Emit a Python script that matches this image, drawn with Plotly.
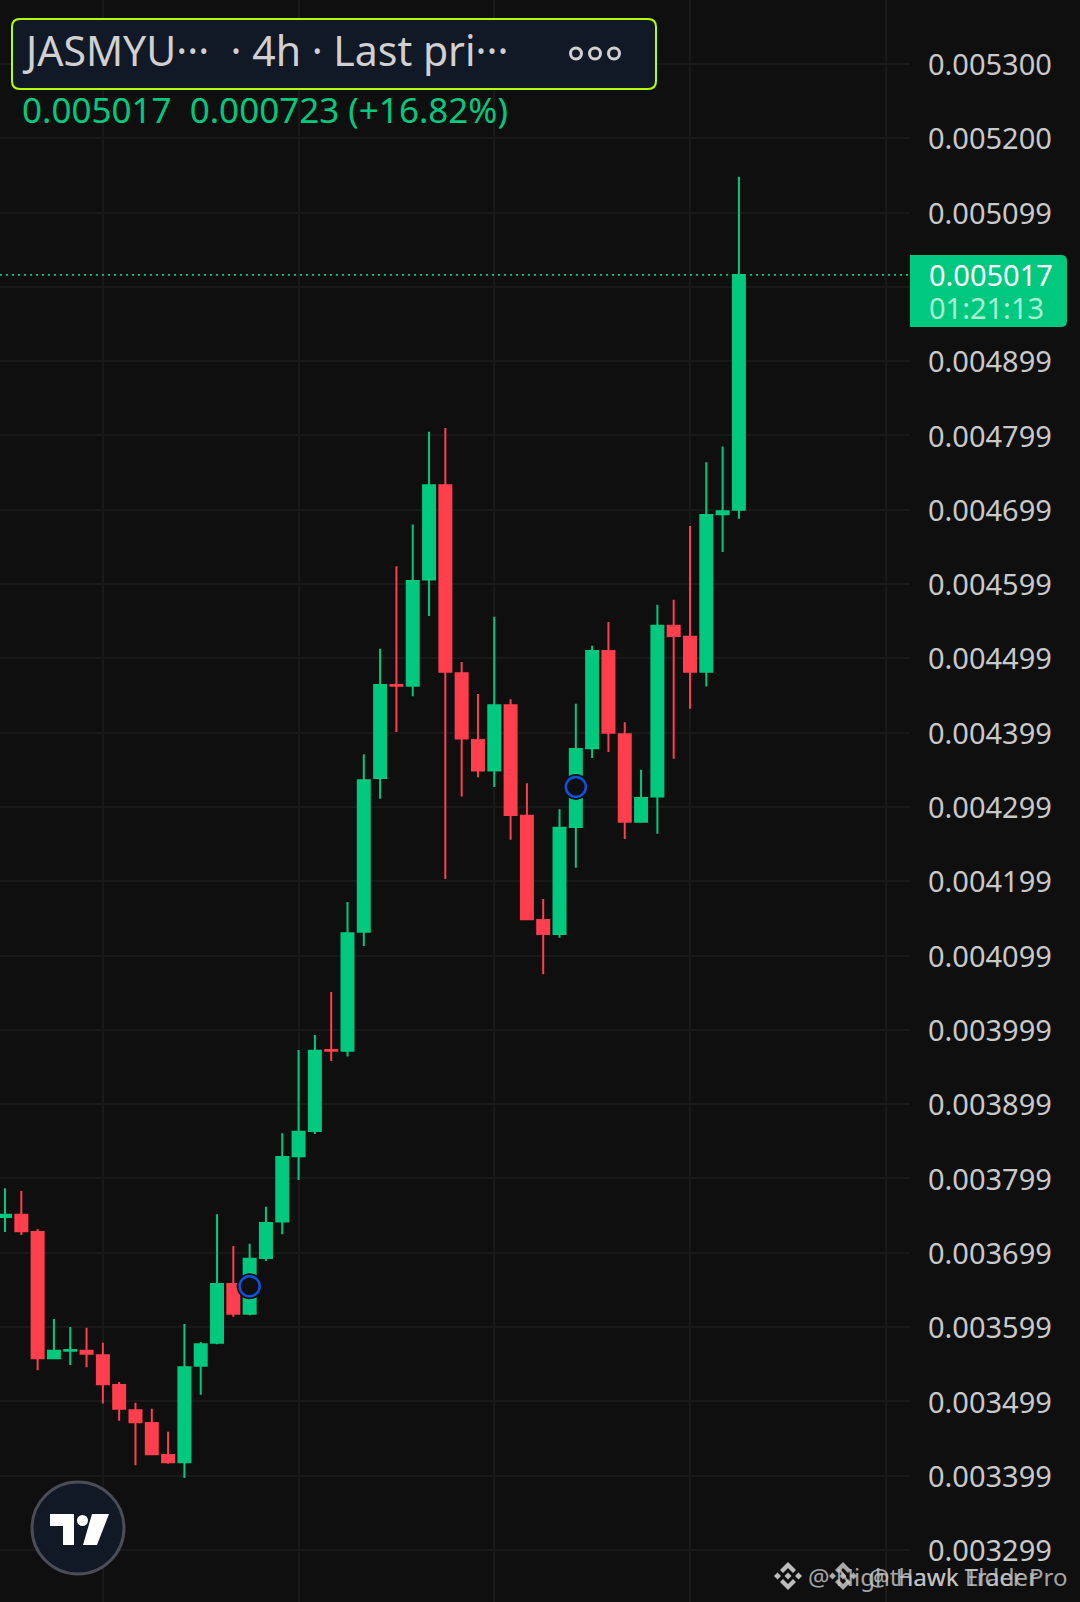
import plotly.graph_objects as go

# reference picture size
W = 1080
H = 1602

BG = "#0f0f0f"
GRID = "#191919"
UP = "#00c97f"
DOWN = "#ff3f4d"
LABEL = "#c9c9c9"

# candles, prices (4h JASMYUSDT)
opens = [
    0.003747, 0.003750, 0.003727, 0.003557, 0.003567, 0.003567, 0.003561, 0.003521,
    0.003487, 0.003470, 0.003427, 0.003417, 0.003547, 0.003578, 0.003657, 0.003617,
    0.003692, 0.003741, 0.003829, 0.003863, 0.003972, 0.003971, 0.004131, 0.004338,
    0.004463, 0.004462, 0.004605, 0.004732, 0.004479, 0.004389, 0.004348, 0.004436,
    0.004287, 0.004147, 0.004128, 0.004272, 0.004378, 0.004509, 0.004397, 0.004279,
    0.004313, 0.004543, 0.004528, 0.004481, 0.004693, 0.004699,
]
highs = [
    0.003786, 0.003782, 0.003731, 0.003610, 0.003599, 0.003598, 0.003578, 0.003525,
    0.003497, 0.003489, 0.003458, 0.003603, 0.003579, 0.003751, 0.003708, 0.003711,
    0.003761, 0.003860, 0.003972, 0.003992, 0.004050, 0.004171, 0.004370, 0.004512,
    0.004623, 0.004679, 0.004804, 0.004809, 0.004494, 0.004451, 0.004555, 0.004444,
    0.004331, 0.004175, 0.004296, 0.004438, 0.004516, 0.004548, 0.004413, 0.004349,
    0.004571, 0.004578, 0.004677, 0.004763, 0.004784, 0.005147,
]
lows = [
    0.003727, 0.003723, 0.003541, 0.003556, 0.003548, 0.003545, 0.003496, 0.003473,
    0.003413, 0.003427, 0.003415, 0.003396, 0.003508, 0.003576, 0.003613, 0.003615,
    0.003688, 0.003724, 0.003797, 0.003859, 0.003957, 0.003963, 0.004112, 0.004310,
    0.004400, 0.004448, 0.004556, 0.004202, 0.004313, 0.004339, 0.004326, 0.004255,
    0.004147, 0.004074, 0.004123, 0.004217, 0.004365, 0.004373, 0.004256, 0.004278,
    0.004263, 0.004364, 0.004431, 0.004461, 0.004642, 0.004687,
]
closes = [
    0.003750, 0.003728, 0.003557, 0.003567, 0.003568, 0.003563, 0.003522, 0.003489,
    0.003471, 0.003428, 0.003417, 0.003545, 0.003576, 0.003657, 0.003617, 0.003691,
    0.003739, 0.003828, 0.003862, 0.003971, 0.003971, 0.004129, 0.004335, 0.004463,
    0.004462, 0.004603, 0.004732, 0.004481, 0.004391, 0.004348, 0.004436, 0.004288,
    0.004148, 0.004128, 0.004271, 0.004377, 0.004509, 0.004399, 0.004279, 0.004311,
    0.004543, 0.004529, 0.004481, 0.004692, 0.004697, 0.005015,
]

# y axis
price_ticks = [
    0.005299, 0.005199, 0.005099, 0.004999, 0.004899, 0.004799, 0.004699, 0.004599,
    0.004499, 0.004399, 0.004299, 0.004199, 0.004099, 0.003999, 0.003899, 0.003799,
    0.003699, 0.003599, 0.003499, 0.003399, 0.003299,
]
price_labels = [
    "0.005300", "0.005200", "0.005099", "", "0.004899", "0.004799", "0.004699", "0.004599",
    "0.004499", "0.004399", "0.004299", "0.004199", "0.004099", "0.003999", "0.003899", "0.003799",
    "0.003699", "0.003599", "0.003499", "0.003399", "0.003299",
]
time_ticks = [6, 18, 30, 42, 54]

# the two blue circles on the candles
marker_x = [15, 35]
marker_y = [0.003654, 0.004326]

x = list(range(len(closes)))


def px(v):
    return v / W


def py(v):
    return 1 - v / H


def pt(a, b):
    return f"{px(a):.5f},{py(b):.5f}"


def poly(points):
    return "M" + " L".join(pt(a, b) for a, b in points) + " Z"


def flat(path, color, opacity=1):
    return dict(type="path", xref="paper", yref="paper", layer="above", fillcolor=color,
                opacity=opacity, line=dict(width=0), path=path)


fig = go.Figure()

fig.add_trace(go.Candlestick(
    x=x, open=opens, high=highs, low=lows, close=closes,
    increasing=dict(line=dict(color=UP, width=2), fillcolor=UP),
    decreasing=dict(line=dict(color=DOWN, width=2), fillcolor=DOWN),
    whiskerwidth=0,
    showlegend=False,
))
fig.add_trace(go.Scatter(
    x=marker_x, y=marker_y, mode="markers", showlegend=False,
    marker=dict(size=26, color=BG, line=dict(width=0)),
))
fig.add_trace(go.Scatter(
    x=marker_x, y=marker_y, mode="markers", showlegend=False,
    marker=dict(size=20, color=BG, line=dict(width=2.5, color="#0f52e0")),
))

shapes = []

# last price line
shapes.append(dict(type="line", xref="paper", yref="y", x0=0, x1=910 / W,
                   y0=closes[-1], y1=closes[-1], layer="above",
                   line=dict(color=UP, width=1.7, dash="2px,4px")))

# price tag on the axis
shapes.append(flat(
    f"M{pt(910, 255)} L{pt(1061, 255)} Q{pt(1067, 255)} {pt(1067, 261)} "
    f"L{pt(1067, 321)} Q{pt(1067, 327)} {pt(1061, 327)} L{pt(910, 327)} Z", UP))

# header box
shapes.append(dict(
    type="path", xref="paper", yref="paper", layer="above", fillcolor="#111826",
    line=dict(color="#b4ff00", width=2),
    path=f"M{pt(20, 19)} L{pt(648, 19)} Q{pt(656, 19)} {pt(656, 27)} "
         f"L{pt(656, 81)} Q{pt(656, 89)} {pt(648, 89)} L{pt(20, 89)} "
         f"Q{pt(12, 89)} {pt(12, 81)} L{pt(12, 27)} Q{pt(12, 19)} {pt(20, 19)} Z",
))

# three small rings in the header
for cx in [576, 595, 614]:
    shapes.append(dict(type="circle", xref="paper", yref="paper", layer="above",
                       x0=px(cx - 5.5), x1=px(cx + 5.5), y0=py(59), y1=py(48),
                       line=dict(color="#d0d0d0", width=3)))

# tradingview badge
shapes.append(dict(type="circle", xref="paper", yref="paper", layer="above",
                   x0=px(32), x1=px(124), y0=py(1574), y1=py(1482),
                   fillcolor="#111826", line=dict(color="#4a4d55", width=3)))
shapes.append(flat(poly([(50, 1514), (74, 1514), (74, 1545), (63, 1545), (63, 1526), (50, 1526)]), "white"))
shapes.append(flat(poly([(92, 1514), (109, 1514), (97, 1545), (83, 1545)]), "white"))
shapes.append(dict(type="circle", xref="paper", yref="paper", layer="above",
                   x0=px(77), x1=px(88), y0=py(1526), y1=py(1515),
                   fillcolor="white", line=dict(width=0)))


# binance diamond next to the watermark text
def binance_logo(cx, cy, opacity):
    color = "#d0d0d0"
    out = []
    for dx in [-10.5, 0, 10.5]:
        out.append(flat(poly([(cx + dx - 3.5, cy), (cx + dx, cy - 3.5), (cx + dx + 3.5, cy), (cx + dx, cy + 3.5)]),
                        color, opacity))
    for sign in [-1, 1]:
        out.append(flat(poly([
            (cx, cy + sign * 14), (cx + 8, cy + sign * 6), (cx + 5, cy + sign * 3),
            (cx, cy + sign * 8), (cx - 5, cy + sign * 3), (cx - 8, cy + sign * 6),
        ]), color, opacity))
    return out


shapes += binance_logo(788, 1576, 0.9)
shapes += binance_logo(843, 1576, 0.8)

fig.update_layout(shapes=shapes)


def add_text(text, left, mid, size, color, opacity=1):
    fig.add_annotation(text=text, xref="paper", yref="paper", x=px(left), y=py(mid),
                       xanchor="left", yanchor="middle", showarrow=False, opacity=opacity,
                       font=dict(family="Noto Sans", size=size, color=color))


add_text("JASMYU\u00b7\u00b7\u00b7  \u00b7 4h \u00b7 Last pri\u00b7\u00b7\u00b7", 20, 50, 41, "#d0d0d0")
add_text("0.005017  0.000723 (+16.82%)", 20, 110, 35, UP)
add_text("0.005017", 927, 275, 29, "white")
add_text("01:21:13", 927, 307, 29, "#a8efd4")
add_text("@ Nighthawk Trader", 806, 1576, 24, "#c9c9c9", 0.8)
add_text("@ Hawk Elder Pro", 866, 1576, 24, "#c9c9c9", 0.8)

fig.update_layout(
    width=W, height=H,
    margin=dict(l=0, r=0, t=0, b=0),
    paper_bgcolor=BG,
    plot_bgcolor=BG,
    boxgap=0.265,
    boxgroupgap=0,
    showlegend=False,
    font=dict(family="Noto Sans", color=LABEL),
    xaxis=dict(
        domain=[0, 910 / W], range=[-0.307, 55.49],
        rangeslider=dict(visible=False),
        tickmode="array", tickvals=time_ticks, ticktext=[""] * len(time_ticks),
        showgrid=True, gridcolor=GRID, gridwidth=2, zeroline=False, showline=False,
    ),
    yaxis=dict(
        side="right", range=[0.003229, 0.005385],
        tickmode="array", tickvals=price_ticks, ticktext=price_labels,
        tickfont=dict(family="Noto Sans", size=29, color=LABEL),
        ticklabelstandoff=17, ticklabelshift=1, ticks="",
        showgrid=True, gridcolor=GRID, gridwidth=2, zeroline=False, showline=False,
    ),
)

fig.write_html("out.html", config=dict(displayModeBar=False),
               post_script="document.body.style.margin='0';")
